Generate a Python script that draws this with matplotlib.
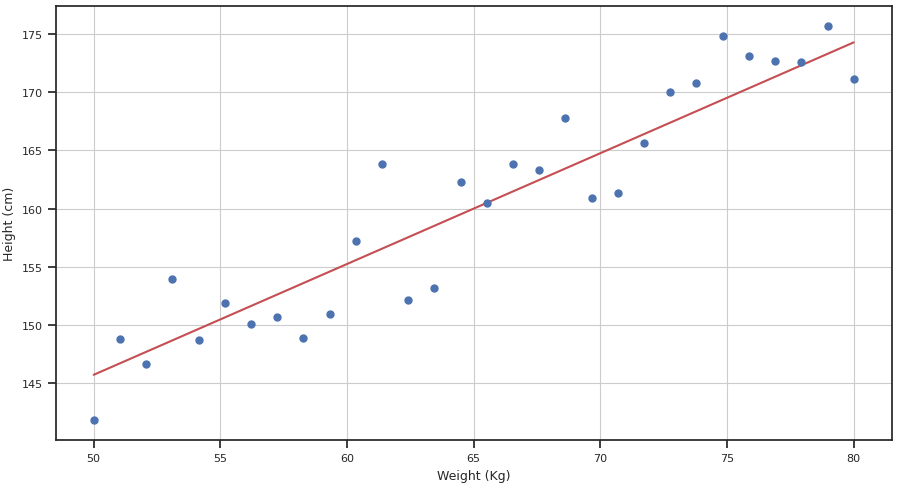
import numpy as np
import matplotlib
matplotlib.use("Agg")
import matplotlib.pyplot as plt
import seaborn as sns

weight = np.linspace(50, 80, 30)
height = [141.8, 148.8, 146.6, 153.9, 148.7, 151.9, 150.1, 150.7, 148.9, 150.9,
          157.2, 163.8, 152.1, 153.2, 162.3, 160.5, 163.8, 163.3, 167.8, 160.9,
          161.3, 165.6, 170.0, 170.8, 174.8, 173.1, 172.7, 172.6, 175.7, 171.1]

# fitted model line as shown (slope, intercept)
fit_slope = 0.953
fit_intercept = 98.05

sns.set_theme(style="ticks")
plt.rcParams["font.size"] = 8.5
plt.rcParams["xtick.labelsize"] = 8
plt.rcParams["ytick.labelsize"] = 8
plt.rcParams["axes.labelsize"] = 9

fig, ax = plt.subplots(figsize=(8.98, 4.85), dpi=100)
ax.scatter(weight, height, color="#4C72B0", s=25, zorder=3)
ax.plot(weight, fit_slope * weight + fit_intercept, color="#C44E52", linewidth=1.5, zorder=2)

ax.grid(True, color="#cccccc", linewidth=0.8)
ax.set_xlabel("Weight (Kg)")
ax.set_ylabel("Height (cm)")
ax.set_yticks([145, 150, 155, 160, 165, 170, 175])

fig.subplots_adjust(left=0.062, right=0.993, top=0.985, bottom=0.091)
fig.savefig("out.png", dpi=100)
